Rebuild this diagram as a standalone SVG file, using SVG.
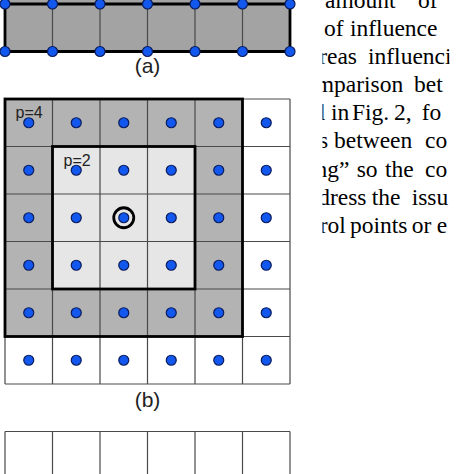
<svg xmlns="http://www.w3.org/2000/svg" width="474" height="474" viewBox="0 0 474 474">
<style>
.thin{stroke:#4a4a4a;stroke-width:1.2;fill:none}
.thick{stroke:#000;stroke-width:2.8;fill:none}
.dot{fill:#1358ee;stroke:#0a1c5e;stroke-width:1.2}
.lbl{font-family:"Liberation Sans",Arial,sans-serif;font-size:21px;fill:#222;text-anchor:middle}
.p{font-family:"Liberation Sans",Arial,sans-serif;font-size:16px;fill:#222}
.body{font-family:"Liberation Serif","Times New Roman",serif;font-size:23.5px;fill:#000}
</style>
<defs>
<clipPath id="textclip"><rect x="322.5" y="0" width="127" height="250"/></clipPath>
</defs>
<rect width="474" height="474" fill="#fff"/>

<g id="panel-a">
<rect x="5" y="-44" width="285" height="95.5" fill="#a3a3a3"/>
<path class="thin" d="M52.5,-44V51.5M100,-44V51.5M147.5,-44V51.5M195,-44V51.5M242.5,-44V51.5"/>
<path class="thick" d="M5,-44V51.5H290V-44M5,4H290"/>
<g>
<circle class="dot" cx="5" cy="4" r="5"/><circle class="dot" cx="52.5" cy="4" r="5"/><circle class="dot" cx="100" cy="4" r="5"/><circle class="dot" cx="147.5" cy="4" r="5"/><circle class="dot" cx="195" cy="4" r="5"/><circle class="dot" cx="242.5" cy="4" r="5"/><circle class="dot" cx="290" cy="4" r="5"/>
<circle class="dot" cx="5" cy="51.5" r="5"/><circle class="dot" cx="52.5" cy="51.5" r="5"/><circle class="dot" cx="100" cy="51.5" r="5"/><circle class="dot" cx="147.5" cy="51.5" r="5"/><circle class="dot" cx="195" cy="51.5" r="5"/><circle class="dot" cx="242.5" cy="51.5" r="5"/><circle class="dot" cx="290" cy="51.5" r="5"/>
</g>
<text class="lbl" x="147.5" y="73">(a)</text>
</g>

<g id="panel-b">
<rect x="5" y="99" width="285" height="285" fill="#fff"/>
<rect x="5" y="99" width="237.5" height="237.5" fill="#b3b3b3"/>
<rect x="52.5" y="146.5" width="142.5" height="142.5" fill="#e6e6e6"/>
<path class="thin" d="M5,99V384M52.5,99V384M100,99V384M147.5,99V384M195,99V384M242.5,99V384M290,99V384M5,99H290M5,146.5H290M5,194H290M5,241.5H290M5,289H290M5,336.5H290M5,384H290"/>
<rect class="thick" x="5" y="99" width="237.5" height="237.5"/>
<rect class="thick" x="52.5" y="146.5" width="142.5" height="142.5"/>
<text class="p" x="15.5" y="118">p=4</text>
<text class="p" x="63.5" y="166">p=2</text>
<g>
<circle class="dot" cx="28.75" cy="122.75" r="5"/><circle class="dot" cx="76.25" cy="122.75" r="5"/><circle class="dot" cx="123.75" cy="122.75" r="5"/><circle class="dot" cx="171.25" cy="122.75" r="5"/><circle class="dot" cx="218.75" cy="122.75" r="5"/><circle class="dot" cx="266.25" cy="122.75" r="5"/>
<circle class="dot" cx="28.75" cy="170.25" r="5"/><circle class="dot" cx="76.25" cy="170.25" r="5"/><circle class="dot" cx="123.75" cy="170.25" r="5"/><circle class="dot" cx="171.25" cy="170.25" r="5"/><circle class="dot" cx="218.75" cy="170.25" r="5"/><circle class="dot" cx="266.25" cy="170.25" r="5"/>
<circle class="dot" cx="28.75" cy="217.75" r="5"/><circle class="dot" cx="76.25" cy="217.75" r="5"/><circle class="dot" cx="123.75" cy="217.75" r="5"/><circle class="dot" cx="171.25" cy="217.75" r="5"/><circle class="dot" cx="218.75" cy="217.75" r="5"/><circle class="dot" cx="266.25" cy="217.75" r="5"/>
<circle class="dot" cx="28.75" cy="265.25" r="5"/><circle class="dot" cx="76.25" cy="265.25" r="5"/><circle class="dot" cx="123.75" cy="265.25" r="5"/><circle class="dot" cx="171.25" cy="265.25" r="5"/><circle class="dot" cx="218.75" cy="265.25" r="5"/><circle class="dot" cx="266.25" cy="265.25" r="5"/>
<circle class="dot" cx="28.75" cy="312.75" r="5"/><circle class="dot" cx="76.25" cy="312.75" r="5"/><circle class="dot" cx="123.75" cy="312.75" r="5"/><circle class="dot" cx="171.25" cy="312.75" r="5"/><circle class="dot" cx="218.75" cy="312.75" r="5"/><circle class="dot" cx="266.25" cy="312.75" r="5"/>
<circle class="dot" cx="28.75" cy="360.25" r="5"/><circle class="dot" cx="76.25" cy="360.25" r="5"/><circle class="dot" cx="123.75" cy="360.25" r="5"/><circle class="dot" cx="171.25" cy="360.25" r="5"/><circle class="dot" cx="218.75" cy="360.25" r="5"/><circle class="dot" cx="266.25" cy="360.25" r="5"/>
</g>
<circle cx="123.75" cy="217.75" r="10" fill="none" stroke="#000" stroke-width="2.8"/>
<text class="lbl" x="147.5" y="406.5">(b)</text>
</g>

<g id="panel-c">
<path class="thin" d="M5,431.5H290M5,431.5V480M52.5,431.5V480M100,431.5V480M147.5,431.5V480M195,431.5V480M242.5,431.5V480M290,431.5V480"/>
</g>

<g id="page-text" class="body" clip-path="url(#textclip)">
<text y="7.5"><tspan x="325">amount</tspan><tspan x="418">of</tspan></text>
<text y="35.7"><tspan x="324">of</tspan><tspan x="350">influence</tspan></text>
<text y="64"><tspan x="319.2">reas</tspan><tspan x="368">influenci</tspan></text>
<text y="92"><tspan x="315.7">mparison</tspan><tspan x="414">bet</tspan></text>
<text y="120"><tspan x="313.3">d</tspan><tspan x="331">in</tspan><tspan x="352">Fig.</tspan><tspan x="394">2,</tspan><tspan x="421.7">fo</tspan></text>
<text y="148"><tspan x="319">s</tspan><tspan x="334">between</tspan><tspan x="425">co</tspan></text>
<text y="176.5"><tspan x="315.5">ng”</tspan><tspan x="356.7">so</tspan><tspan x="385">the</tspan><tspan x="425">co</tspan></text>
<text y="205"><tspan x="318.2">dress</tspan><tspan x="371.7">the</tspan><tspan x="411.7">issu</tspan></text>
<text y="233"><tspan x="319.7">rol</tspan><tspan x="350">points</tspan><tspan x="411.7">or</tspan><tspan x="436.7">e</tspan></text>
</g>
</svg>
